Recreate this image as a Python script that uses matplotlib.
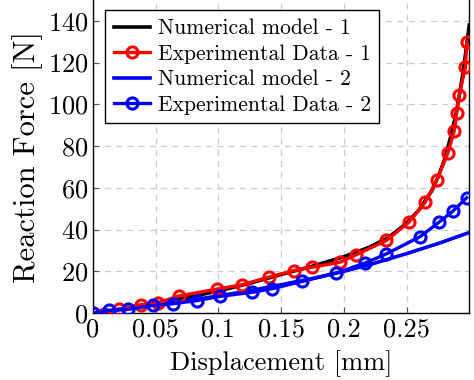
import numpy as np
import matplotlib.pyplot as plt

plt.rcParams['font.family'] = 'serif'
plt.rcParams['font.serif'] = ['cmr10']
plt.rcParams['mathtext.fontset'] = 'cm'
plt.rcParams['axes.formatter.use_mathtext'] = True

# numerical model 1 (black)
num1_x = [0, 0.025, 0.05, 0.075, 0.1, 0.125, 0.15, 0.175, 0.2, 0.22, 0.235, 0.25,
          0.26, 0.27, 0.275, 0.28, 0.285, 0.29, 0.295, 0.3]
num1_y = [0, 2.2, 4.6, 7.5, 10.6, 14.3, 18.5, 22.5, 27.0, 31.5, 36.0, 43.0,
          49.5, 58.5, 65.0, 73.0, 84.0, 97.0, 115.0, 138.0]

# experimental data 1 (red)
exp1_x = [0.0, 0.009, 0.021, 0.038, 0.052, 0.069, 0.099, 0.119, 0.14, 0.16, 0.175,
          0.197, 0.21, 0.234, 0.252, 0.265, 0.274, 0.283, 0.288, 0.29, 0.292, 0.297, 0.298]
exp1_y = [0.0, -0.5, 2.0, 4.0, 5.0, 8.3, 11.5, 13.6, 17.2, 20.4, 22.0,
          24.4, 28.0, 34.8, 43.6, 53.2, 63.6, 76.8, 87.2, 96.0, 104.3, 118.0, 130.0]

# numerical model 2 (blue)
num2_x = [0, 0.025, 0.05, 0.075, 0.1, 0.125, 0.15, 0.175, 0.2, 0.225, 0.25, 0.275, 0.3]
num2_y = [0, 2.0, 4.0, 6.0, 8.2, 10.7, 13.6, 16.6, 20.0, 24.0, 28.5, 33.3, 38.6]

# experimental data 2 (blue)
exp2_x = [0.0, 0.0127, 0.028, 0.048, 0.064, 0.083, 0.101, 0.127, 0.143, 0.167,
          0.194, 0.217, 0.234, 0.261, 0.276, 0.287, 0.298]
exp2_y = [0.0, 1.3, 1.8, 3.7, 4.5, 6.0, 8.0, 10.0, 11.7, 15.2,
          19.2, 24.0, 28.4, 36.7, 43.6, 48.9, 55.3]

fig = plt.figure(figsize=(4.74, 3.80), dpi=100)
ax = fig.add_axes([0.196, 0.176, 0.794, 0.824])

mk = dict(marker='o', markersize=8, markerfacecolor='none', markeredgewidth=2.2)
ax.plot(num1_x, num1_y, color='black', lw=2.6, label='Numerical model - 1', zorder=3)
ax.plot(exp1_x, exp1_y, color='#ff0000', lw=2.4, label='Experimental Data - 1', zorder=4, **mk)
ax.plot(num2_x, num2_y, color='#0000ff', lw=2.6, label='Numerical model - 2', zorder=3)
ax.plot(exp2_x, exp2_y, color='#0000ff', lw=2.4, label='Experimental Data - 2', zorder=4, **mk)

ax.set_xlim(0, 0.3)
ax.set_ylim(0, 150)
ax.set_xticks([0, 0.05, 0.1, 0.15, 0.2, 0.25])
ax.set_xticklabels(['0', '0.05', '0.1', '0.15', '0.2', '0.25'])
ax.set_yticks([0, 20, 40, 60, 80, 100, 120, 140])
ax.tick_params(direction='in', labelsize=19, length=4, color='#555555')
ax.grid(True, color='#cccccc', linestyle=(0, (5, 4)), lw=0.9)
ax.spines['top'].set_visible(False)
for s in ['left', 'bottom', 'right']:
    ax.spines[s].set_linewidth(1.0)

ax.set_xlabel('Displacement [mm]', fontsize=19, labelpad=6)
ax.set_ylabel('Reaction Force [N]', fontsize=22, labelpad=3)

leg = ax.legend(loc='upper left', bbox_to_anchor=(0.032, 0.968), fontsize=15.5,
                fancybox=False, framealpha=1, edgecolor='black', handlelength=1.7,
                borderpad=0.4, labelspacing=0.28, handletextpad=0.35,
                borderaxespad=0)
leg.get_frame().set_linewidth(1.0)

fig.savefig('out.png', dpi=100)
